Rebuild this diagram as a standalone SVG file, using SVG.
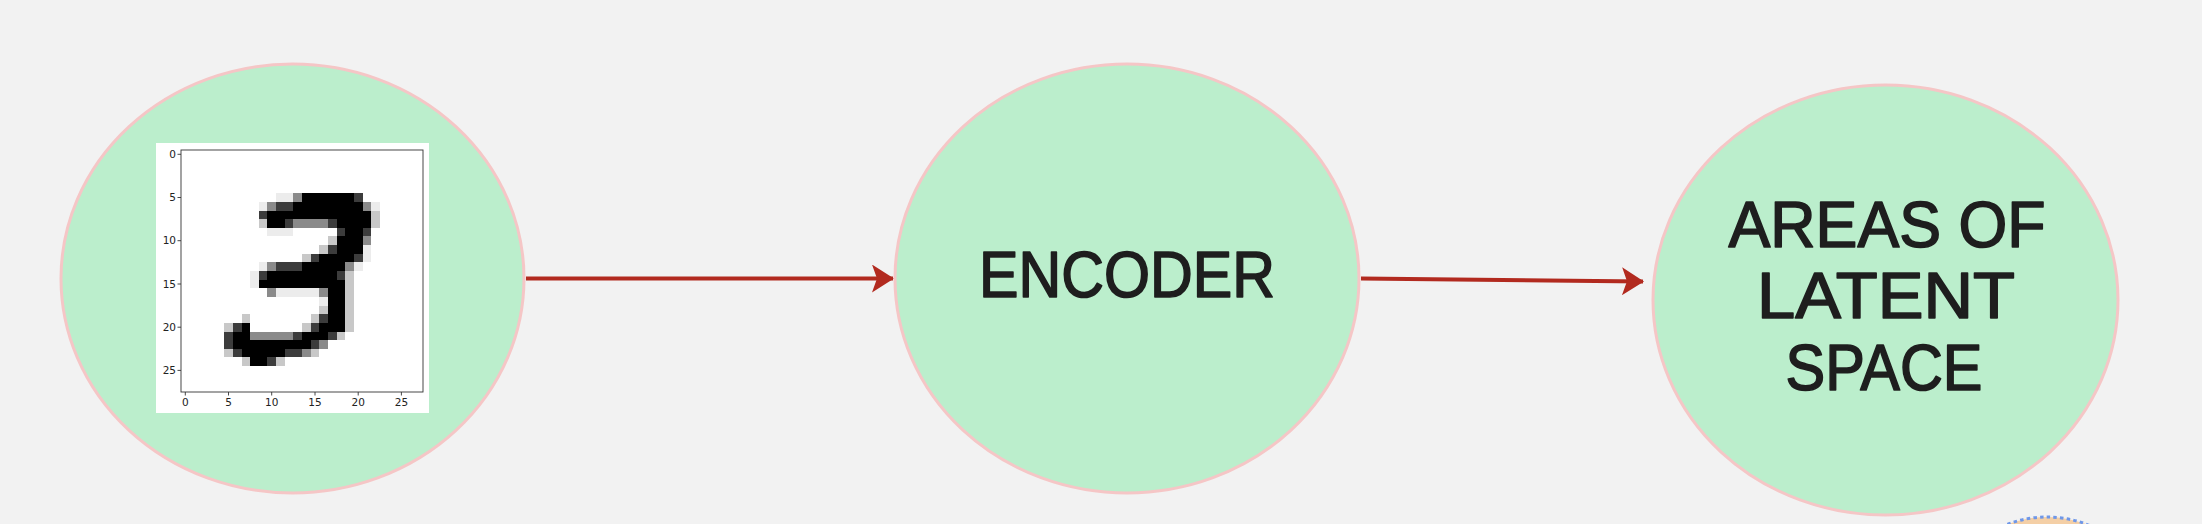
<svg xmlns="http://www.w3.org/2000/svg" width="2202" height="524" viewBox="0 0 2202 524">
<style>
.node{fill:#bbeecc;stroke:#f5c6c6;stroke-width:3}
.lbl{font-family:"Liberation Sans",Arial,sans-serif;font-size:64px;fill:#1e1e1e;stroke:#1e1e1e;stroke-width:1.6;stroke-linejoin:round;text-anchor:middle}
.edge{stroke:#b22a1f;stroke-width:4;fill:none}
.tk{font-family:"DejaVu Sans",sans-serif;font-size:10.5px;fill:#222}
.ax{stroke:#333;stroke-width:0.9;fill:none}
.B{fill:#000}.D{fill:#3c3c3c}.G{fill:#8a8a8a}.L{fill:#c8c8c8}.V{fill:#ececec}
</style>
<defs>
<marker id="ah" viewBox="0 0 22 28" refX="21" refY="14" markerWidth="22" markerHeight="28" markerUnits="userSpaceOnUse" orient="auto">
<path d="M0,0 L22,14 L0,28 L5,14 Z" fill="#b22a1f"/>
</marker>
</defs>
<rect width="2202" height="524" fill="#f2f2f2"/>

<g id="connectors">
<path class="edge" d="M526,278.5 L893,278.5" marker-end="url(#ah)"/>
<path class="edge" d="M1361,278.5 L1643,281.5" marker-end="url(#ah)"/>
</g>

<g id="node-input">
<ellipse class="node" cx="292.5" cy="278.5" rx="231.5" ry="214.5"/>
<rect x="156" y="143" width="273" height="270" fill="#fff"/>
<g transform="translate(181,150) scale(8.643)" shape-rendering="crispEdges">
<rect class="V" x="11" y="5" width="2" height="1"/><rect class="G" x="13" y="5" width="1" height="1"/><rect class="B" x="14" y="5" width="6" height="1"/><rect class="D" x="20" y="5" width="1" height="1"/>
<rect class="V" x="9" y="6" width="1" height="1"/><rect class="G" x="10" y="6" width="1" height="1"/><rect class="D" x="11" y="6" width="2" height="1"/><rect class="B" x="13" y="6" width="8" height="1"/><rect class="G" x="21" y="6" width="1" height="1"/><rect class="V" x="22" y="6" width="1" height="1"/>
<rect class="D" x="9" y="7" width="1" height="1"/><rect class="B" x="10" y="7" width="12" height="1"/><rect class="L" x="22" y="7" width="1" height="1"/>
<rect class="L" x="9" y="8" width="1" height="1"/><rect class="B" x="10" y="8" width="2" height="1"/><rect class="D" x="12" y="8" width="1" height="1"/><rect class="G" x="13" y="8" width="4" height="1"/><rect class="D" x="17" y="8" width="1" height="1"/><rect class="B" x="18" y="8" width="4" height="1"/><rect class="L" x="22" y="8" width="1" height="1"/>
<rect class="V" x="10" y="9" width="3" height="1"/><rect class="D" x="18" y="9" width="1" height="1"/><rect class="B" x="19" y="9" width="2" height="1"/><rect class="D" x="21" y="9" width="1" height="1"/>
<rect class="L" x="17" y="10" width="1" height="1"/><rect class="B" x="18" y="10" width="3" height="1"/><rect class="G" x="21" y="10" width="1" height="1"/>
<rect class="L" x="16" y="11" width="1" height="1"/><rect class="D" x="17" y="11" width="1" height="1"/><rect class="B" x="18" y="11" width="3" height="1"/><rect class="V" x="21" y="11" width="1" height="1"/>
<rect class="L" x="14" y="12" width="1" height="1"/><rect class="D" x="15" y="12" width="1" height="1"/><rect class="B" x="16" y="12" width="4" height="1"/><rect class="D" x="20" y="12" width="1" height="1"/><rect class="V" x="21" y="12" width="1" height="1"/>
<rect class="V" x="9" y="13" width="1" height="1"/><rect class="G" x="10" y="13" width="1" height="1"/><rect class="D" x="11" y="13" width="3" height="1"/><rect class="B" x="14" y="13" width="5" height="1"/><rect class="G" x="19" y="13" width="1" height="1"/><rect class="V" x="20" y="13" width="1" height="1"/>
<rect class="V" x="8" y="14" width="1" height="1"/><rect class="D" x="9" y="14" width="1" height="1"/><rect class="B" x="10" y="14" width="8" height="1"/><rect class="D" x="18" y="14" width="1" height="1"/><rect class="L" x="19" y="14" width="1" height="1"/>
<rect class="V" x="8" y="15" width="1" height="1"/><rect class="B" x="9" y="15" width="10" height="1"/><rect class="L" x="19" y="15" width="1" height="1"/>
<rect class="G" x="10" y="16" width="1" height="1"/><rect class="V" x="11" y="16" width="5" height="1"/><rect class="G" x="16" y="16" width="1" height="1"/><rect class="B" x="17" y="16" width="2" height="1"/><rect class="L" x="19" y="16" width="1" height="1"/>
<rect class="V" x="16" y="17" width="1" height="1"/><rect class="B" x="17" y="17" width="2" height="1"/><rect class="L" x="19" y="17" width="1" height="1"/>
<rect class="L" x="16" y="18" width="1" height="1"/><rect class="B" x="17" y="18" width="2" height="1"/><rect class="L" x="19" y="18" width="1" height="1"/>
<rect class="L" x="7" y="19" width="1" height="1"/><rect class="L" x="15" y="19" width="1" height="1"/><rect class="D" x="16" y="19" width="1" height="1"/><rect class="B" x="17" y="19" width="2" height="1"/><rect class="L" x="19" y="19" width="1" height="1"/>
<rect class="L" x="5" y="20" width="1" height="1"/><rect class="D" x="6" y="20" width="1" height="1"/><rect class="B" x="7" y="20" width="1" height="1"/><rect class="L" x="14" y="20" width="1" height="1"/><rect class="D" x="15" y="20" width="1" height="1"/><rect class="B" x="16" y="20" width="3" height="1"/><rect class="L" x="19" y="20" width="1" height="1"/>
<rect class="D" x="5" y="21" width="1" height="1"/><rect class="B" x="6" y="21" width="2" height="1"/><rect class="G" x="8" y="21" width="5" height="1"/><rect class="D" x="13" y="21" width="1" height="1"/><rect class="B" x="14" y="21" width="3" height="1"/><rect class="D" x="17" y="21" width="1" height="1"/><rect class="L" x="18" y="21" width="1" height="1"/>
<rect class="D" x="5" y="22" width="1" height="1"/><rect class="B" x="6" y="22" width="9" height="1"/><rect class="D" x="15" y="22" width="1" height="1"/><rect class="G" x="16" y="22" width="1" height="1"/>
<rect class="L" x="5" y="23" width="1" height="1"/><rect class="D" x="6" y="23" width="1" height="1"/><rect class="B" x="7" y="23" width="5" height="1"/><rect class="D" x="12" y="23" width="2" height="1"/><rect class="G" x="14" y="23" width="1" height="1"/><rect class="L" x="15" y="23" width="1" height="1"/>
<rect class="L" x="7" y="24" width="1" height="1"/><rect class="B" x="8" y="24" width="2" height="1"/><rect class="D" x="10" y="24" width="1" height="1"/><rect class="L" x="11" y="24" width="1" height="1"/>
</g>
<rect class="ax" x="181" y="150" width="242" height="242"/>
<path class="ax" d="M185.3,392v3.5M228.5,392v3.5M271.7,392v3.5M315,392v3.5M358.2,392v3.5M401.4,392v3.5M181,154.3h-3.5M181,197.5h-3.5M181,240.7h-3.5M181,284h-3.5M181,327.2h-3.5M181,370.4h-3.5"/>
<g class="tk" text-anchor="middle">
<text x="185.3" y="406">0</text><text x="228.5" y="406">5</text><text x="271.7" y="406">10</text><text x="315" y="406">15</text><text x="358.2" y="406">20</text><text x="401.4" y="406">25</text>
</g>
<g class="tk" text-anchor="end">
<text x="176" y="158">0</text><text x="176" y="201.2">5</text><text x="176" y="244.4">10</text><text x="176" y="287.7">15</text><text x="176" y="330.9">20</text><text x="176" y="374.1">25</text>
</g>
</g>

<g id="node-encoder">
<ellipse class="node" cx="1127" cy="278.5" rx="232" ry="214.5"/>
<text class="lbl" x="1127" y="297" textLength="296" lengthAdjust="spacingAndGlyphs">ENCODER</text>
</g>

<g id="node-latent">
<ellipse class="node" cx="1885.5" cy="300" rx="232.5" ry="215"/>
<text class="lbl" x="1887" y="247" textLength="317" lengthAdjust="spacingAndGlyphs">AREAS OF</text>
<text class="lbl" x="1886" y="318" textLength="258" lengthAdjust="spacingAndGlyphs">LATENT</text>
<text class="lbl" x="1884" y="390" textLength="197" lengthAdjust="spacingAndGlyphs">SPACE</text>
</g>

<g id="node-partial">
<ellipse cx="2047" cy="630" rx="112" ry="113" fill="#f4cfa6" stroke="#6f97e8" stroke-width="3" stroke-dasharray="3.5 3.2"/>
</g>
</svg>
